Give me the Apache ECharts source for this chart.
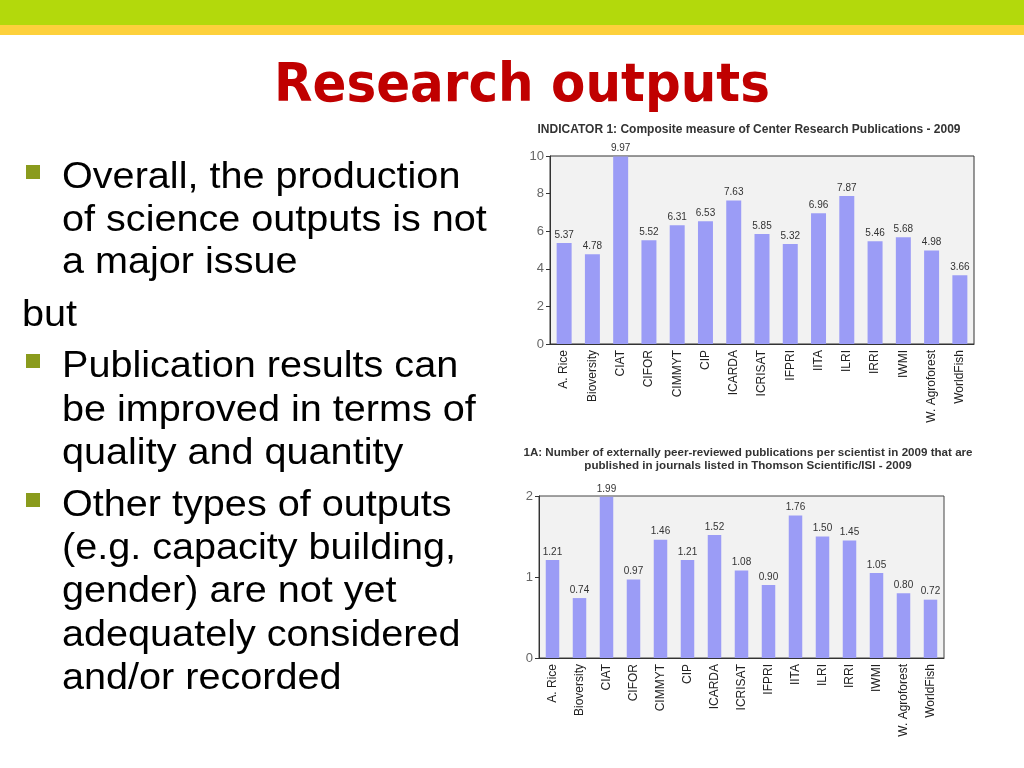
<!DOCTYPE html>
<html>
<head>
<meta charset="utf-8">
<script src="https://cdn.jsdelivr.net/npm/echarts@6/dist/echarts.min.js"></script>
<style>
html,body{margin:0;padding:0;background:#fff;}
#main{width:1024px;height:768px;}
</style>
</head>
<body>
<div id="main"></div>
<script>
// ---- data ----
const categories = ["A. Rice","Bioversity","CIAT","CIFOR","CIMMYT","CIP","ICARDA","ICRISAT","IFPRI","IITA","ILRI","IRRI","IWMI","W. Agroforest","WorldFish"];
const indicator1Values = [5.37,4.78,9.97,5.52,6.31,6.53,7.63,5.85,5.32,6.96,7.87,5.46,5.68,4.98,3.66];
const indicator1ATicks = [0,2,4,6,8,10];
const indicator1AValues = [1.21,0.74,1.99,0.97,1.46,1.21,1.52,1.08,0.90,1.76,1.50,1.45,1.05,0.80,0.72];
const indicator1BTicks = [0,1,2];
const slideTitle = "Research outputs";
const chart1Title = "INDICATOR 1: Composite measure of Center Research Publications - 2009";
const chart2TitleLines = ["1A: Number of externally peer-reviewed publications per scientist in 2009 that are","published in journals listed in Thomson Scientific/ISI - 2009"];
const bulletLines = [
  {text:"Overall, the production", bullet:true},
  {text:"of science outputs is not"},
  {text:"a major issue"},
  {text:"but", plain:true},
  {text:"Publication results can", bullet:true},
  {text:"be improved in terms of"},
  {text:"quality and quantity"},
  {text:"Other types of outputs", bullet:true},
  {text:"(e.g. capacity building,"},
  {text:"gender) are not yet"},
  {text:"adequately considered"},
  {text:"and/or recorded"}
];
const baselines = [189,232,274,327,378,422,465,517,560,603,647,690];

const chart = echarts.init(document.getElementById('main'), null, {renderer:'canvas'});
const barColor = '#9b9cf6';
const chartFont = '"Liberation Sans", Arial, sans-serif';

const graphics = [
  {type:'rect', shape:{x:0,y:0,width:1024,height:25}, style:{fill:'#b3d90c'}},
  {type:'rect', shape:{x:0,y:25,width:1024,height:10}, style:{fill:'#fdd13c'}},
  {type:'text', x:522, y:87, scaleY:1.07, style:{text:slideTitle, font:'bold 50px "DejaVu Sans"', fill:'#c00000', align:'center', verticalAlign:'middle'}}
];
bulletLines.forEach((l,i)=>{
  const y = baselines[i];
  const x = l.plain ? 22 : 62;
  graphics.push({type:'text', x:x, y:y-11, scaleX:1.1, style:{text:l.text, font:'36px "Liberation Sans"', fill:'#000', align:'left', verticalAlign:'middle'}});
  if(l.bullet){
    graphics.push({type:'rect', shape:{x:26,y:y-24,width:14,height:14}, style:{fill:'#8a9b1d'}});
  }
});
graphics.push({type:'text', x:749, y:130, style:{text:chart1Title, font:'bold 12px "Liberation Sans Narrow", "Liberation Sans", Arial', fill:'#333', align:'center', verticalAlign:'middle'}});
graphics.push({type:'text', x:748, y:453, style:{text:chart2TitleLines[0], font:'bold 11.6px "Liberation Sans Narrow", "Liberation Sans", Arial', fill:'#333', align:'center', verticalAlign:'middle'}});
graphics.push({type:'text', x:748, y:466, style:{text:chart2TitleLines[1], font:'bold 11.6px "Liberation Sans Narrow", "Liberation Sans", Arial', fill:'#333', align:'center', verticalAlign:'middle'}});

function xAx(gi){
  return {type:'category', gridIndex:gi, data:categories,
    axisLine:{lineStyle:{color:'#333'}},
    axisTick:{alignWithLabel:true, length:4, lineStyle:{color:'#333'}},
    axisLabel:{rotate:90, interval:0, fontSize:12, color:'#222', fontFamily:chartFont, margin:6}};
}
function yAx(gi,ticks){
  return {type:'value', gridIndex:gi, min:ticks[0], max:ticks[ticks.length-1], interval:ticks[1]-ticks[0],
    axisLine:{show:true, lineStyle:{color:'#333'}},
    axisTick:{show:true, length:4, lineStyle:{color:'#333'}},
    axisLabel:{fontSize:13, color:'#666', fontFamily:chartFont, margin:6},
    splitLine:{show:false}};
}
const lbl = {show:true, position:'top', distance:3, fontSize:10, color:'#333', fontFamily:chartFont, formatter:p=>p.value.toFixed(2)};

chart.setOption({
  animation:false,
  graphic:graphics,
  grid:[
    {left:550, top:156, width:424, height:188, show:true, backgroundColor:'#f2f2f2', borderColor:'#333', borderWidth:1},
    {left:539, top:496, width:405, height:162, show:true, backgroundColor:'#f2f2f2', borderColor:'#444', borderWidth:1}
  ],
  xAxis:[xAx(0), xAx(1)],
  yAxis:[yAx(0,indicator1ATicks), yAx(1,indicator1BTicks)],
  series:[
    {type:'bar', xAxisIndex:0, yAxisIndex:0, data:indicator1Values, barWidth:'53%', itemStyle:{color:barColor}, label:lbl},
    {type:'bar', xAxisIndex:1, yAxisIndex:1, data:indicator1AValues, barWidth:'50%', itemStyle:{color:barColor}, label:lbl}
  ]
});
</script>
</body>
</html>
